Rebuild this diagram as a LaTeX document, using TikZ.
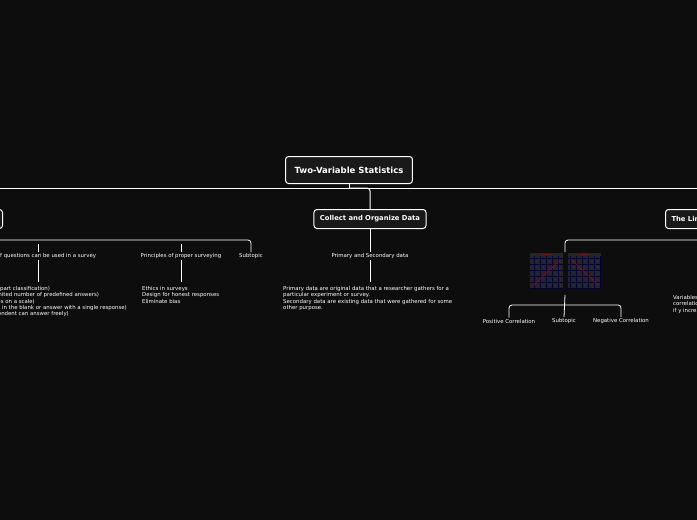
\documentclass[tikz,border=0pt]{standalone}
\usepackage{fontspec}
\setmainfont{DejaVu Sans}
\usetikzlibrary{positioning}
\tikzset{
  topic/.style={draw=white, line width=1pt, rounded corners=3pt, fill=black!90, text=white, font=\bfseries\fontsize{6.8}{7}\selectfont, minimum height=19pt, inner xsep=6pt},
  root/.style={topic, font=\bfseries\fontsize{8.5}{9}\selectfont, minimum height=27pt, inner xsep=9pt},
  sub/.style={text=white, font=\fontsize{5.4}{6.4}\selectfont, inner sep=1pt},
  note/.style={sub, align=left, anchor=north west},
  link/.style={draw=white!55, line width=0.8pt, rounded corners=3pt},
  mainlink/.style={draw=white, line width=1pt, rounded corners=3pt}
}
\begin{document}
\begin{tikzpicture}[x=1pt, y=-1pt]
	\fill[black!95] (0,0) rectangle (697,520);
	\useasboundingbox (0,0) rectangle (697,520);
	\clip (0,0) rectangle (697,520);

	%main topics
	\node[root] (title) at (349,170) {Two-Variable Statistics};
	\node[topic, anchor=east] (survey) at (3,219) {Collect Data by Surveying};
	\node[topic] (organize) at (370,219) {Collect and Organize Data};
	\node[topic, anchor=west] (line) at (665,219) {The Line of Best Fit};
	\coordinate (bus) at (349,188);
	\draw[mainlink] (title.south) -- (bus);
	\draw[mainlink] (-20,188) -- (717,188);
	\draw[mainlink] (349,188) -| (organize.north);

	%left branch
	\node[sub] (types) at (38,256) {Types of questions can be used in a survey};
	\node[sub] (principles) at (181,256) {Principles of proper surveying};
	\node[sub] (subleft) at (251,256) {Subtopic};
	\draw[link] (-20,240) -| (subleft.north);
	\draw[link] (types.north) -- ++(0,-8);
	\draw[link] (principles.north) -- ++(0,-8);
	\node[note] (typestext) at (-52,285) {Dichotomous (two part classification)\\Multiple choice (limited number of predefined answers)\\Rating scale (values on a scale)\\Fill in the blank (fill in the blank or answer with a single response)\\Open-ended (respondent can answer freely)};
	\draw[link] (types.south) -- (38,282);
	\node[note] (principlestext) at (141,285) {Ethics in surveys\\Design for honest responses\\Eliminate bias};
	\draw[link] (principles.south) -- (181,282);

	%center branch
	\node[sub] (primary) at (370,256) {Primary and Secondary data};
	\draw[link] (organize.south) -- (primary.north);
	\node[note] (primarytext) at (282,285) {Primary data are original data that a researcher gathers for a\\particular experiment or survey.\\Secondary data are existing data that were gathered for some\\other purpose.};
	\draw[link] (primary.south) -- (370,282);

	%right branch
	\draw[link] (565,252) |- (717,240);
	\foreach \gx/\dir in {530/1, 568/-1} {
		\fill[black!85] (\gx,253) rectangle ++(33,36);
		\draw[blue!25!black, line width=0.2pt, step=6pt] (\gx,256) grid ++(33,33);
		\draw[red!60!black, line width=0.6pt] (\gx+12,254) -- ++(9,0);
		\ifnum\dir=1
			\draw[red!70!black, line width=0.5pt] (\gx+4,285) -- (\gx+30,260);
		\else
			\draw[red!70!black, line width=0.5pt] (\gx+4,260) -- (\gx+30,285);
		\fi
	}
	\node[sub] (positive) at (509,321) {Positive Correlation};
	\node[sub] (subright) at (564,321) {Subtopic};
	\node[sub] (negative) at (621,321) {Negative Correlation};
	\draw[link] (565,295) -- (subright.north);
	\draw[link] (positive.north) |- (565,305) -| (negative.north);
	\node[note] (linetext) at (672,294) {Variables with a positive\\correlation show a trend:\\if y increases, x increases};
\end{tikzpicture}
\end{document}
